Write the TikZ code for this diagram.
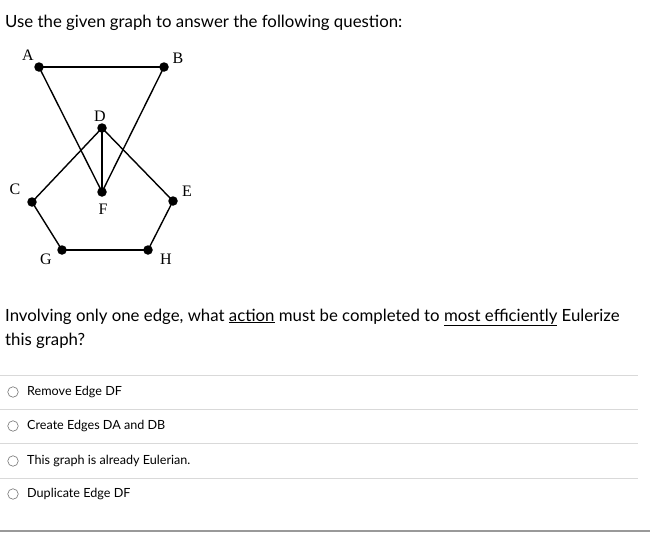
\documentclass[tikz,border=0pt]{standalone}
\usepackage{fontspec}
\setmainfont{Lato}
\newfontfamily\graphfont{Liberation Serif}
\begin{document}
\begin{tikzpicture}[x=1pt,y=-1pt,
  vtx/.style={circle,fill=black,inner sep=0pt,minimum size=9.5pt},
  lbl/.style={font=\graphfont\fontsize{16}{16}\selectfont,inner sep=0pt},
  edge/.style={line width=1.4pt},
  body/.style={font=\fontsize{16.8}{19}\selectfont,inner sep=0pt,anchor=base west},
  opt/.style={font=\fontsize{12.6}{15}\selectfont,inner sep=0pt,anchor=base west},
  sep/.style={draw=black!15,line width=0.9pt},
  radio/.style={circle,draw=black!55,line width=0.6pt,inner sep=0pt,minimum size=10.5pt}]
\useasboundingbox (0,0) rectangle (650,538);
% title
\node[body] (title) at (5,27.5) {Use the given graph to answer the following question:};
% graph
\node[vtx] (A) at (39,67) {};
\node[vtx] (B) at (164,67) {};
\node[vtx] (D) at (102,128) {};
\node[vtx] (F) at (102,192) {};
\node[vtx] (C) at (32,202) {};
\node[vtx] (E) at (173,201) {};
\node[vtx] (G) at (62,250) {};
\node[vtx] (H) at (148,250) {};
\node[lbl] (lA) at (28,55) {A};
\node[lbl] (lB) at (178,58) {B};
\node[lbl] (lD) at (100,116) {D};
\node[lbl] (lF) at (103,209) {F};
\node[lbl] (lC) at (15,189) {C};
\node[lbl] (lE) at (187,191) {E};
\node[lbl] (lG) at (46,259) {G};
\node[lbl] (lH) at (166,259) {H};
\draw[edge] (A.center) -- (B.center);
\draw[edge] (A.center) -- (F.center);
\draw[edge] (B.center) -- (F.center);
\draw[edge] (D.center) -- (F.center);
\draw[edge] (D.center) -- (C.center);
\draw[edge] (D.center) -- (E.center);
\draw[edge] (C.center) -- (G.center);
\draw[edge] (G.center) -- (H.center);
\draw[edge] (H.center) -- (E.center);
% question
\node[body] (q1) at (5,321) {Involving only one edge, what \underline{action} must be completed to \underline{most efficiently} Eulerize};
\node[body] (q2) at (5,345) {this graph?};
% separators
\coordinate (s1a) at (0,375); \coordinate (s1b) at (638,375);
\coordinate (s2a) at (0,409); \coordinate (s2b) at (638,409);
\coordinate (s3a) at (0,443); \coordinate (s3b) at (638,443);
\coordinate (s4a) at (0,478); \coordinate (s4b) at (638,478);
\coordinate (s5a) at (0,531); \coordinate (s5b) at (650,531);
\draw[sep] (s1a) -- (s1b);
\draw[sep] (s2a) -- (s2b);
\draw[sep] (s3a) -- (s3b);
\draw[sep] (s4a) -- (s4b);
\draw[draw=black!40,line width=1.4pt] (s5a) -- (s5b);
% options
\node[radio] (r1) at (13,392) {};
\node[opt] (o1) at (27,395) {Remove Edge DF};
\node[radio] (r2) at (13,426) {};
\node[opt] (o2) at (27,429) {Create Edges DA and DB};
\node[radio] (r3) at (13,461) {};
\node[opt] (o3) at (27,464) {This graph is already Eulerian.};
\node[radio] (r4) at (13,494) {};
\node[opt] (o4) at (27,497) {Duplicate Edge DF};
\end{tikzpicture}
\end{document}
